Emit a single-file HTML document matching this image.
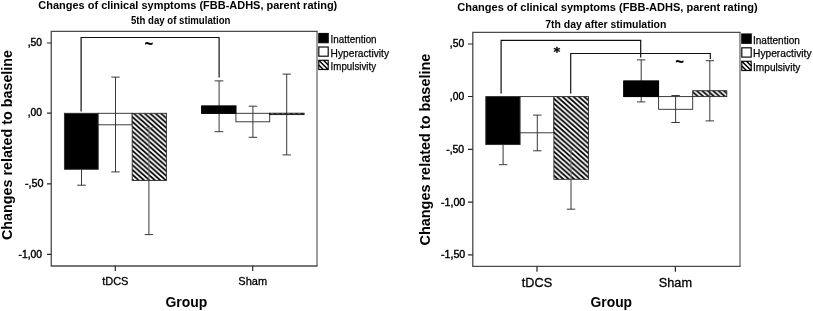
<!DOCTYPE html>
<html><head><meta charset="utf-8"><title>Changes of clinical symptoms</title>
<style>
html,body{margin:0;padding:0;background:#fff;}
svg{display:block;font-family:"Liberation Sans",Arial,sans-serif;}
.b{font-weight:bold}
</style></head>
<body>
<svg width="813" height="311" viewBox="0 0 813 311">
<defs>
<pattern id="h" width="5.42" height="4.81" patternUnits="userSpaceOnUse" patternTransform="translate(133.9 113.5)">
<rect width="5.42" height="4.81" fill="#fff"/>
<path d="M-5.42,-4.81 L10.84,9.62 M0,-4.81 L16.259999999999998,9.62 M-10.84,-4.81 L5.42,9.62" stroke="#000" stroke-width="1.75"/>
</pattern>
<pattern id="h2" width="5.42" height="4.81" patternUnits="userSpaceOnUse" patternTransform="translate(556.7 96.3)">
<rect width="5.42" height="4.81" fill="#fff"/>
<path d="M-5.42,-4.81 L10.84,9.62 M0,-4.81 L16.259999999999998,9.62 M-10.84,-4.81 L5.42,9.62" stroke="#000" stroke-width="1.75"/>
</pattern>
</defs>
<rect width="813" height="311" fill="#fff"/>

<!-- ============ CHART 1 ============ -->
<text class="b" x="38.3" y="9.3" font-size="10.4" textLength="299" lengthAdjust="spacingAndGlyphs">Changes of clinical symptoms (FBB-ADHS, parent rating)</text>
<text class="b" x="131" y="24" font-size="10" textLength="99.4" lengthAdjust="spacingAndGlyphs">5th day of stimulation</text>
<text class="b" transform="translate(12 240) rotate(-90)" font-size="14.3" textLength="190" lengthAdjust="spacingAndGlyphs">Changes related to baseline</text>
<text class="b" x="165.4" y="307.2" font-size="14" textLength="41.8" lengthAdjust="spacingAndGlyphs">Group</text>

<g font-size="10.3" text-anchor="end" fill="#000" stroke="#000" stroke-width="0.4">
<text x="42" y="46.1">,50</text>
<text x="42" y="116.1">,00</text>
<text x="43.6" y="186.9" textLength="18.6" lengthAdjust="spacingAndGlyphs">-,50</text>
<text x="42" y="257.9">-1,00</text>
</g>
<g font-size="11" text-anchor="middle" stroke="#000" stroke-width="0.3">
<text x="115.3" y="285">tDCS</text>
<text x="252.7" y="285">Sham</text>
</g>

<!-- frame -->
<path d="M317,31.3V266" fill="none" stroke="#858585" stroke-width="1.6"/>
<path d="M317.6,31.3H51.25V266H317.6" fill="none" stroke="#4a4a4a" stroke-width="1.3"/>
<g stroke="#262626" stroke-width="1.2">
<path d="M47,43H51.2 M47,113.2H51.2 M47,183.8H51.2 M47,254.3H51.2 M115.3,266V271 M252.7,266V271"/>
</g>

<!-- bars tDCS -->
<g stroke="#2a2a2a" stroke-width="0.9">
<rect x="64.4" y="113.3" width="33.8" height="56" fill="#000"/>
<rect x="98.2" y="113.3" width="34" height="11.5" fill="#fff"/>
<rect x="132.2" y="113.3" width="34.2" height="67.2" fill="url(#h)"/>
<rect x="201.7" y="106" width="34.2" height="7.3" fill="#000"/>
<rect x="235.9" y="113.3" width="33.8" height="8.5" fill="#fff"/>
<rect x="269.7" y="113.2" width="34.4" height="1.4" fill="url(#h)" stroke="#111" stroke-width="0.9"/>
</g>
<!-- error bars -->
<g stroke="#2e2e2e" stroke-width="0.95" fill="none">
<path d="M81.5,169.3V185.2 M77.2,185.2H85.8"/>
<path d="M115.5,77.1V171.9 M111.3,77.1H119.7 M111.3,171.9H119.7"/>
<path d="M148.9,180.5V234.6 M144.7,234.6H153.1"/>
<path d="M148.9,127.8V180.5 M144.7,127.8H153.1" stroke="#757575"/>
<path d="M219.1,80.9V131.7 M214.6,80.9H223.3 M214.6,131.7H223.3"/>
<path d="M252.9,106.2V137.3 M248.7,106.2H257.1 M248.7,137.3H257.1"/>
<path d="M286.7,74.1V154.9 M282.5,74.1H290.9 M282.5,154.9H290.9"/>
</g>
<rect x="201.7" y="106" width="34.2" height="7.3" fill="#000" stroke="#000" stroke-width="0.9"/>
<!-- bracket -->
<path d="M81.1,111.4V37.5H219.1V77.5" fill="none" stroke="#111" stroke-width="1.2"/>
<text class="b" transform="translate(149 44) scale(1 1.28)" y="4.9" font-size="15" text-anchor="middle">~</text>

<!-- legend 1 -->
<g stroke="#0a0a0a" stroke-width="1.2">
<rect x="318.8" y="33.5" width="9.4" height="9.2" fill="#000"/>
<rect x="318.8" y="47" width="9.4" height="9.2" fill="#fff"/>
<rect x="318.8" y="60.3" width="9.4" height="9.2" fill="#fff"/>
<path d="M318.8,60.3L328,69.5 M318.8,65L323.3,69.5 M323.5,60.3L328.2,65" stroke="#000" stroke-width="1.5"/>
</g>
<g font-size="11.3" stroke="#000" stroke-width="0.25">
<text x="330.6" y="42.8" textLength="46" lengthAdjust="spacingAndGlyphs">Inattention</text>
<text x="330.6" y="56.7" textLength="58.4" lengthAdjust="spacingAndGlyphs">Hyperactivity</text>
<text x="330.6" y="69.8" textLength="45.4" lengthAdjust="spacingAndGlyphs">Impulsivity</text>
</g>

<!-- ============ CHART 2 ============ -->
<text class="b" x="457.2" y="11.2" font-size="11" textLength="300.4" lengthAdjust="spacingAndGlyphs">Changes of clinical symptoms (FBB-ADHS, parent rating)</text>
<text class="b" x="545.2" y="28.4" font-size="10.5" textLength="121.2" lengthAdjust="spacingAndGlyphs">7th day after stimulation</text>
<text class="b" transform="translate(430.3 245.5) rotate(-90)" font-size="14.3" textLength="191.8" lengthAdjust="spacingAndGlyphs">Changes related to baseline</text>
<text class="b" x="590.5" y="307.2" font-size="14" textLength="41.6" lengthAdjust="spacingAndGlyphs">Group</text>

<g font-size="10.3" text-anchor="end" fill="#000" stroke="#000" stroke-width="0.4">
<text x="464.2" y="47.2">,50</text>
<text x="464.2" y="100.2">,00</text>
<text x="464.2" y="152.7" textLength="18" lengthAdjust="spacingAndGlyphs">-,50</text>
<text x="465.3" y="205.9" textLength="24.3" lengthAdjust="spacingAndGlyphs">-1,00</text>
<text x="465.3" y="258.4" textLength="24.3" lengthAdjust="spacingAndGlyphs">-1,50</text>
</g>
<g font-size="12.7" text-anchor="middle" stroke="#000" stroke-width="0.3">
<text x="537" y="287">tDCS</text>
<text x="675.4" y="287">Sham</text>
</g>

<path d="M740,32.3V266.3" fill="none" stroke="#858585" stroke-width="1.6"/>
<path d="M740.6,32.3H472.8V266.3H740.6" fill="none" stroke="#4a4a4a" stroke-width="1.3"/>
<g stroke="#262626" stroke-width="1.2">
<path d="M468,44H472.8 M468,96.5H472.8 M468,149.3H472.8 M468,202.2H472.8 M468,254.8H472.8 M537,266.3V271.7 M675.4,266.3V271.7"/>
</g>

<g stroke="#2a2a2a" stroke-width="0.9">
<rect x="485.8" y="96.6" width="34.3" height="48" fill="#000"/>
<rect x="520.1" y="96.6" width="33.8" height="36.2" fill="#fff"/>
<rect x="553.9" y="96.6" width="34.6" height="82.7" fill="url(#h2)"/>
<rect x="623.8" y="81" width="34.8" height="15.6" fill="#000"/>
<rect x="658.6" y="96.6" width="34.1" height="12.7" fill="#fff"/>
<rect x="692.7" y="90.7" width="34.1" height="5.9" fill="url(#h2)"/>
</g>
<g stroke="#2e2e2e" stroke-width="0.95" fill="none">
<path d="M503.1,144.6V164.7 M498.9,164.7H507.3"/>
<path d="M537.3,115.1V150.8 M533.1,115.1H541.5 M533.1,150.8H541.5"/>
<path d="M571,179.3V209.2 M566.8,209.2H575.2"/>
<path d="M571,150.1V179.3 M566.8,150.1H575.2" stroke="#757575"/>
<path d="M641.2,59.9V101.9 M637,59.9H645.4 M637,101.9H645.4"/>
<path d="M675.6,95.5V122.5 M671.4,95.5H679.8 M671.4,122.5H679.8"/>
<path d="M709.8,60.7V120.9 M705.6,60.7H714 M705.6,120.9H714"/>
</g>
<rect x="623.8" y="81" width="34.8" height="15.6" fill="#000" stroke="#000" stroke-width="0.9"/>
<path d="M501.1,93.5V40.3H640.7V57.5" fill="none" stroke="#111" stroke-width="1.2"/>
<path d="M570.7,93.5V53.5H710.3V59.1" fill="none" stroke="#111" stroke-width="1.2"/>
<text x="556.8" y="55.5" font-size="13" font-weight="bold" font-family="'DejaVu Sans',sans-serif" text-anchor="middle" stroke="#000" stroke-width="0.35">*</text>
<text class="b" transform="translate(679.6 61.5) scale(1 1.28)" y="4.9" font-size="15" text-anchor="middle">~</text>

<g stroke="#0a0a0a" stroke-width="1.2">
<rect x="741.8" y="34" width="9.4" height="9.3" fill="#000"/>
<rect x="741.8" y="47.8" width="9.4" height="9.3" fill="#fff"/>
<rect x="741.8" y="61.3" width="9.4" height="9.2" fill="#fff"/>
<path d="M741.8,61.3L751.2,70.5 M741.8,66L746.4,70.5 M746.5,61.3L751.2,66" stroke="#000" stroke-width="1.5"/>
</g>
<g font-size="11.3" stroke="#000" stroke-width="0.25">
<text x="753" y="44.1" textLength="46.9" lengthAdjust="spacingAndGlyphs">Inattention</text>
<text x="753" y="57" textLength="58.5" lengthAdjust="spacingAndGlyphs">Hyperactivity</text>
<text x="753" y="70.5" textLength="47.3" lengthAdjust="spacingAndGlyphs">Impulsivity</text>
</g>
</svg>
</body></html>
